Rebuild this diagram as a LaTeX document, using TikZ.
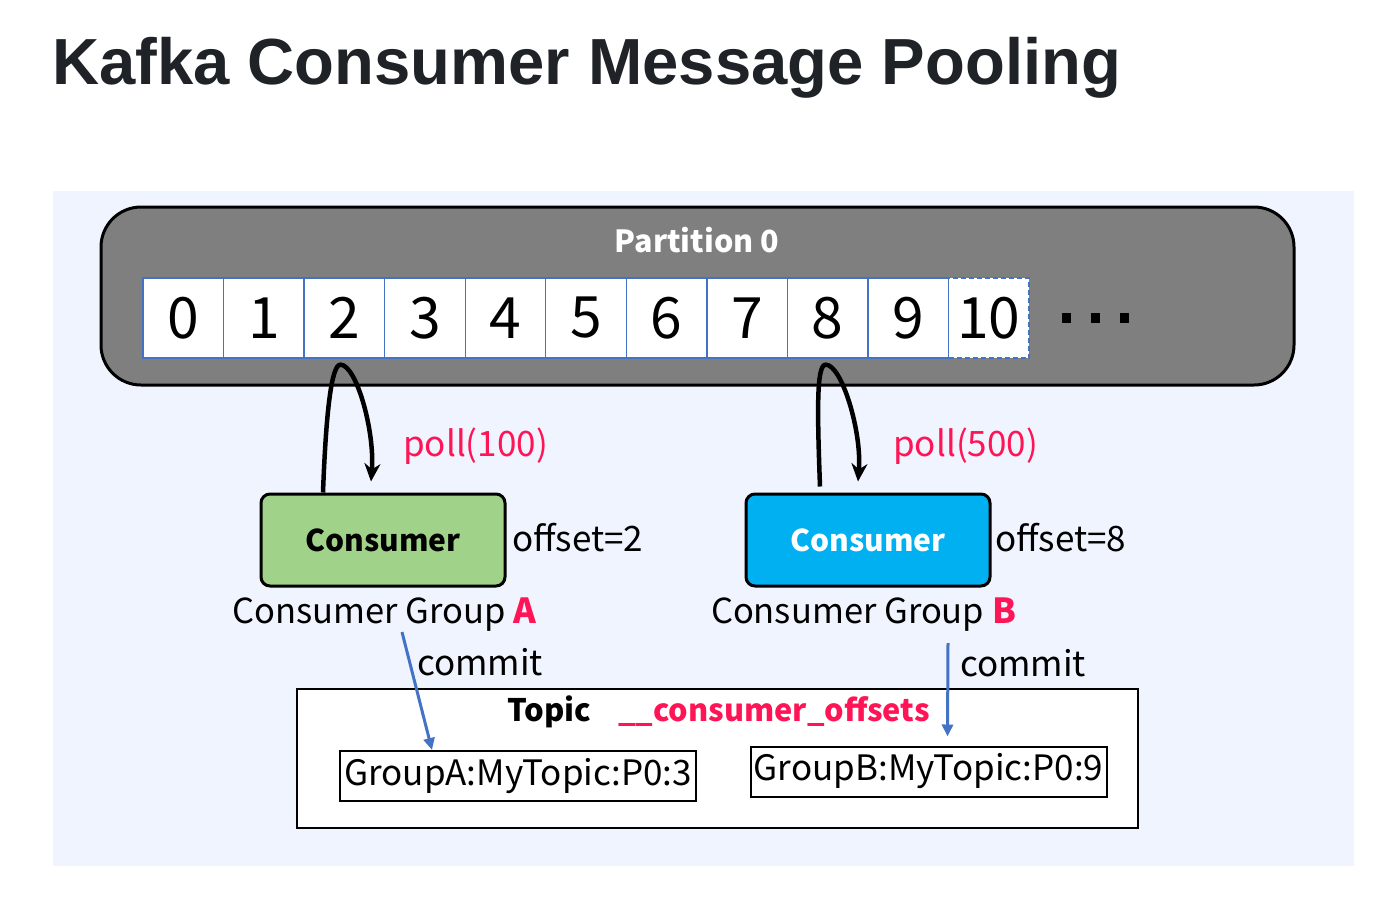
\documentclass[tikz,border=0pt]{standalone}
\usepackage{fontspec}
\usetikzlibrary{arrows.meta,calc}
\newfontfamily\kr{Noto Sans CJK KR}
\newfontfamily\ttl{Liberation Sans}
\definecolor{bgblue}{RGB}{240,244,254}
\definecolor{titlec}{RGB}{31,35,40}
\definecolor{partgray}{RGB}{127,127,127}
\definecolor{cellblue}{RGB}{68,114,196}
\definecolor{greenc}{RGB}{160,210,138}
\definecolor{cyanc}{RGB}{0,176,240}
\definecolor{redc}{RGB}{255,20,85}
\definecolor{commitblue}{RGB}{68,114,196}
\tikzset{
  cell/.style={draw=cellblue, line width=1.3pt, fill=white, minimum width=80.55pt, minimum height=80pt, inner sep=0pt, font=\kr\fontsize{57pt}{60pt}\selectfont},
  consumerbox/.style={draw=black, line width=3pt, rounded corners=9pt, minimum width=244pt, minimum height=92pt, inner sep=0pt, font=\kr\bfseries\fontsize{30pt}{34pt}\selectfont},
  lbl/.style={inner sep=0pt, font=\kr\fontsize{35pt}{40pt}\selectfont},
  gbox/.style={draw=black, line width=2pt, minimum width=356pt, minimum height=50pt, inner sep=0pt, font=\kr\fontsize{35pt}{40pt}\selectfont},
  pollarrow/.style={line width=4.5pt, draw=black, -{Stealth[length=18pt,width=16pt]}},
  commitarrow/.style={line width=3pt, draw=commitblue, -{Triangle[length=12pt,width=11pt]}},
}
\begin{document}
\begin{tikzpicture}[x=1pt,y=-1pt]
\useasboundingbox (0,0) rectangle (1400,903);
\fill[white] (0,0) rectangle (1400,903);
\fill[bgblue] (53,191) rectangle (1354,866);
% title
\node[anchor=base west, inner sep=0pt, text=titlec, font=\ttl\bfseries\fontsize{65.2pt}{70pt}\selectfont] (title) at (52,84) {Kafka Consumer Message Pooling};
% partition
\node[draw=black, line width=3pt, fill=partgray, rounded corners=40pt, minimum width=1193pt, minimum height=178pt, inner sep=0pt] (part) at (697.5,296) {};
\node[lbl, text=white, font=\kr\bfseries\fontsize{30.5pt}{36pt}\selectfont] (ptitle) at (697,240) {Partition 0};
\foreach \i in {0,...,9} {
  \node[cell] (c\i) at ({183.3+80.55*\i},318) {\i};
}
\node[cell, draw=cellblue, dashed, dash pattern=on 5pt off 3pt] (c10) at ({183.3+80.55*10},318) {10};
\foreach \x in {1066,1095,1124} { \fill[black] (\x-4.5,313) rectangle (\x+4.5,323); }
% consumers
\node[consumerbox, fill=greenc, text=black] (consA) at (383,540) {Consumer};
\node[consumerbox, fill=cyanc, text=white] (consB) at (868,540) {Consumer};
\node[lbl, anchor=west] (offA) at (512,538) {offset=2};
\node[lbl, anchor=west] (offB) at (995,538) {offset=8};
\node[lbl, font=\kr\fontsize{34.5pt}{40pt}\selectfont] (grpA) at (384,615) {Consumer Group \textcolor{redc}{\bfseries A}};
\node[lbl, font=\kr\fontsize{34.5pt}{40pt}\selectfont] (grpB) at (863.5,615) {Consumer Group \textcolor{redc}{\bfseries B}};
% poll arrows
\draw[pollarrow] ([xshift=-60pt]consA.north) .. controls +(3,-80) and +(-9,0) .. ($(c2.south)+(-4,6)$) .. controls +(16,0) and +(4,-50) .. ([xshift=-12pt,yshift=11pt]consA.north);
\node[lbl, anchor=west, text=redc] (pollA) at (403,446) {poll(100)};
\draw[pollarrow] ([xshift=-48pt,yshift=6pt]consB.north) .. controls +(-3,-80) and +(-9,0) .. ($(c8.south)+(-2,6)$) .. controls +(16,0) and +(4,-50) .. ([xshift=-10pt,yshift=11pt]consB.north);
\node[lbl, anchor=west, text=redc] (pollB) at (893,446) {poll(500)};
% topic box
\node[draw=black, line width=2.5pt, fill=white, minimum width=841pt, minimum height=139pt, inner sep=0pt] (topic) at (717.5,758.5) {};
\node[lbl, anchor=west, font=\kr\bfseries\fontsize{31pt}{36pt}\selectfont] (topicl) at (507,712) {Topic};
\node[lbl, anchor=west, text=redc, font=\kr\bfseries\fontsize{30.7pt}{36pt}\selectfont] (topicn) at (618,712) {\_\_consumer\_offsets};
\node[gbox] (gA) at (518,776) {GroupA:MyTopic:P0:3};
\node[gbox] (gB) at (928.5,771.5) {GroupB:MyTopic:P0:9};
% commits
\draw[commitarrow] ($(grpA.south)+(18,0)$) -- ($(gA.north)+(-86,0)$);
\node[lbl, anchor=west] (comA) at (417,662) {commit};
\draw[commitarrow] ($(grpB.south)+(84.5,11)$) -- ($(gB.north)+(19,-9)$);
\node[lbl, anchor=west] (comB) at (960,663) {commit};
\end{tikzpicture}
\end{document}
